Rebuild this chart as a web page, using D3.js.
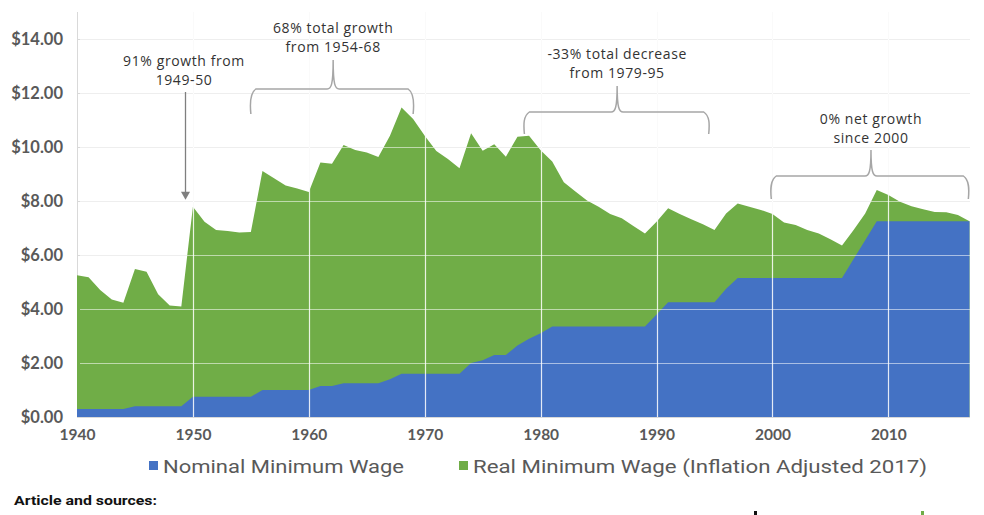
<!DOCTYPE html>
<html>
<head>
<meta charset="utf-8">
<script src="https://cdn.jsdelivr.net/npm/d3@7"></script>
<style>
  html, body { margin: 0; padding: 0; background: #fff; }
  svg { display: block; }
</style>
</head>
<body>
<svg id="chart" width="984" height="515"></svg>
<script>
// ---------------- DATA ----------------
const startYear = 1940;
const endYear = 2017;
const nominalWage = [
  0.30, 0.30, 0.30, 0.30, 0.30,            // 1940-44
  0.40, 0.40, 0.40, 0.40, 0.40,            // 1945-49
  0.75, 0.75, 0.75, 0.75, 0.75, 0.75,      // 1950-55
  1.00, 1.00, 1.00, 1.00, 1.00,            // 1956-60
  1.15, 1.15,                              // 1961-62
  1.25, 1.25, 1.25, 1.25,                  // 1963-66
  1.40,                                    // 1967
  1.60, 1.60, 1.60, 1.60, 1.60, 1.60,      // 1968-73
  2.00, 2.10, 2.30, 2.30, 2.65, 2.90, 3.10,// 1974-80
  3.35, 3.35, 3.35, 3.35, 3.35, 3.35, 3.35, 3.35, 3.35, // 1981-89
  3.80,                                    // 1990
  4.25, 4.25, 4.25, 4.25, 4.25,            // 1991-95
  4.75,                                    // 1996
  5.15, 5.15, 5.15, 5.15, 5.15, 5.15, 5.15, 5.15, 5.15, 5.15, // 1997-2006
  5.85, 6.55,                              // 2007-08
  7.25, 7.25, 7.25, 7.25, 7.25, 7.25, 7.25, 7.25, 7.25 // 2009-17
];
const realWage = [
  5.25, 5.18, 4.70, 4.35, 4.23, 5.48, 5.38, 4.55, 4.13, 4.09,   // 1940s
  7.79, 7.23, 6.93, 6.89, 6.83, 6.85, 9.11, 8.84, 8.57, 8.46,   // 1950s
  8.33, 9.43, 9.38, 10.07, 9.89, 9.80, 9.63, 10.42, 11.46, 11.04, // 1960s
  10.42, 9.85, 9.56, 9.21, 10.51, 9.86, 10.10, 9.64, 10.38, 10.42, // 1970s
  9.88, 9.46, 8.69, 8.35, 8.02, 7.79, 7.52, 7.36, 7.07, 6.80,   // 1980s
  7.23, 7.73, 7.52, 7.32, 7.14, 6.93, 7.54, 7.91, 7.79, 7.67,   // 1990s
  7.52, 7.20, 7.11, 6.93, 6.80, 6.58, 6.35, 6.93, 7.54, 8.41,   // 2000s
  8.22, 7.97, 7.81, 7.69, 7.59, 7.58, 7.48, 7.25                // 2010s
];
const xTicks = [1940, 1950, 1960, 1970, 1980, 1990, 2000, 2010];
const yTicks = [0, 2, 4, 6, 8, 10, 12, 14];
const seriesNames = ["Nominal Minimum Wage", "Real Minimum Wage (Inflation Adjusted 2017)"];
const annotations = [
  { lines: ["91% growth from", "1949-50"], type: "arrow", at: 1949.3, tipValue: 7.9 },
  { lines: ["68% total growth", "from 1954-68"], type: "brace", from: 1955.0, to: 1969.0, mid: 1962.1 },
  { lines: ["-33% total decrease", "from 1979-95"], type: "brace", from: 1978.6, to: 1994.5, mid: 1986.6 },
  { lines: ["0% net growth", "since 2000"], type: "brace", from: 1999.9, to: 2016.9, mid: 2008.5 }
];

// ---------------- LAYOUT ----------------
const svg = d3.select("#chart");
const plotLeft = 77, plotRight = 970, plotTop = 12, plotBottom = 417;
const colors = { nominal: "#4472c4", real: "#70ad47" };

const years = nominalWage.map((d, i) => startYear + i);
const x = d3.scaleLinear().domain([startYear, endYear]).range([plotLeft, plotRight - 0.5]);
const y = d3.scaleLinear().domain([0, 15]).range([plotBottom, plotTop]);

// background gridlines
const grid = svg.append("g");
grid.selectAll("line.h").data(yTicks).join("line")
  .attr("x1", plotLeft).attr("x2", plotRight)
  .attr("y1", d => y(d) + 0.5).attr("y2", d => y(d) + 0.5)
  .attr("stroke", "#d9d9d9").attr("stroke-width", 1);
grid.selectAll("line.v").data(xTicks).join("line")
  .attr("x1", d => Math.round(x(d)) + 0.5).attr("x2", d => Math.round(x(d)) + 0.5)
  .attr("y1", plotTop).attr("y2", plotBottom)
  .attr("stroke", "#d9d9d9").attr("stroke-width", 1);

// areas
const areaGen = d3.area().x((d, i) => x(years[i])).y0(y(0)).y1(d => y(d));
svg.append("path").datum(realWage).attr("d", areaGen).attr("fill", colors.real);
svg.append("path").datum(nominalWage).attr("d", areaGen).attr("fill", colors.nominal);

// gridlines visible through the areas (lighter)
const og = svg.append("g");
og.selectAll("line.h").data(yTicks.filter(d => d > 0)).join("line")
  .attr("x1", plotLeft + 3).attr("x2", plotRight)
  .attr("y1", d => y(d) + 0.5).attr("y2", d => y(d) + 0.5)
  .attr("stroke", "#ffffff").attr("stroke-opacity", 0.55).attr("stroke-width", 1.2);
og.selectAll("line.v").data(xTicks.filter(d => d > startYear)).join("line")
  .attr("x1", d => Math.round(x(d)) + 0.5).attr("x2", d => Math.round(x(d)) + 0.5)
  .attr("y1", plotTop).attr("y2", plotBottom)
  .attr("stroke", "#ffffff").attr("stroke-opacity", 0.85).attr("stroke-width", 1.2);
svg.append("line").attr("x1", plotLeft).attr("x2", plotRight)
  .attr("y1", plotBottom + 0.5).attr("y2", plotBottom + 0.5)
  .attr("stroke", "#d9d9d9");

// axes (text only)
const yAxis = d3.axisLeft(y).tickValues(yTicks).tickSize(0).tickPadding(14)
  .tickFormat(d => "$" + d3.format(".2f")(d));
const gy = svg.append("g").attr("transform", `translate(${plotLeft},0)`).call(yAxis);
gy.select(".domain").remove();
gy.selectAll("text").attr("font-family", "Lato, 'Open Sans', sans-serif")
  .attr("font-weight", 700).attr("font-size", 16.5).attr("fill", "#595959")
  .attr("dy", "0.35em");

const xAxis = d3.axisBottom(x).tickValues(xTicks).tickSize(0).tickPadding(12)
  .tickFormat(d3.format("d"));
const gx = svg.append("g").attr("transform", `translate(0,${plotBottom})`).call(xAxis);
gx.select(".domain").remove();
gx.selectAll("text").attr("font-family", "Lato, 'Open Sans', sans-serif")
  .attr("font-weight", 700).attr("font-size", 15.5).attr("fill", "#595959");

// legend
const legend = svg.append("g").attr("font-family", "Roboto, Lato, sans-serif")
  .attr("font-size", 19).attr("fill", "#595959");
const legendItems = [
  { name: seriesNames[0], color: colors.nominal, sx: 149, tx: 163, w: 241 },
  { name: seriesNames[1], color: colors.real, sx: 459, tx: 473, w: 454 }
];
legendItems.forEach(it => {
  legend.append("rect").attr("x", it.sx).attr("y", 461).attr("width", 9).attr("height", 9).attr("fill", it.color);
  legend.append("text").attr("x", it.tx).attr("y", 472.5).text(it.name)
    .attr("textLength", it.w).attr("lengthAdjust", "spacingAndGlyphs");
});

// footer
svg.append("text").attr("x", 14).attr("y", 505).text("Article and sources:")
  .attr("font-family", "Roboto, Lato, sans-serif").attr("font-weight", 700)
  .attr("font-size", 13.5).attr("fill", "#111")
  .attr("textLength", 143).attr("lengthAdjust", "spacingAndGlyphs");
svg.append("rect").attr("x", 754).attr("y", 511).attr("width", 3).attr("height", 4).attr("fill", "#111");
svg.append("rect").attr("x", 921).attr("y", 511).attr("width", 3).attr("height", 4).attr("fill", colors.real);

// annotations
const ann = svg.append("g");
const textStyle = sel => sel.attr("font-family", "'Open Sans', Lato, sans-serif")
  .attr("font-size", 14).attr("letter-spacing", 0.6).attr("fill", "#333333").attr("text-anchor", "middle");

function bracePath(x1, x2, xm, yH, yEnd, yTip) {
  const r = 5;
  return `M${x1},${yEnd} C${x1 - 1},${yEnd - 10} ${x1 - 1},${yH + 4} ${x1 + r},${yH}` +
    ` L${xm - 6},${yH} C${xm - 2},${yH} ${xm},${yH - 4} ${xm},${yTip}` +
    ` C${xm},${yH - 4} ${xm + 2},${yH} ${xm + 6},${yH}` +
    ` L${x2 - r},${yH} C${x2 + 1},${yH + 4} ${x2 + 1},${yEnd - 10} ${x2},${yEnd}`;
}

function twoLines(cx, y1, lines) {
  ann.append("text").call(textStyle).attr("x", cx).attr("y", y1).text(lines[0]);
  ann.append("text").call(textStyle).attr("x", cx).attr("y", y1 + 19).text(lines[1]);
}

const braceGeom = [
  null,
  { yH: 89, yEnd: 114, yTip: 60, ty: 33 },
  { yH: 112, yEnd: 134, yTip: 86, ty: 59 },
  { yH: 176, yEnd: 199, yTip: 150, ty: 124 }
];

annotations.forEach((a, i) => {
  if (a.type === "arrow") {
    const ax = Math.round(x(a.at)) + 0.5;
    twoLines(184, 66, a.lines);
    const tipY = y(a.tipValue) - 4;
    ann.append("line").attr("x1", ax).attr("x2", ax).attr("y1", 92).attr("y2", tipY - 6)
      .attr("stroke", "#7f7f7f").attr("stroke-width", 1.3);
    ann.append("path").attr("d", `M${ax - 4.5},${tipY - 8} L${ax + 4.5},${tipY - 8} L${ax},${tipY} Z`)
      .attr("fill", "#7f7f7f");
  } else {
    const g = braceGeom[i];
    const xm = x(a.mid);
    ann.append("path").attr("d", bracePath(x(a.from), x(a.to), xm, g.yH, g.yEnd, g.yTip))
      .attr("fill", "none").attr("stroke", "#a6a6a6").attr("stroke-width", 1.5);
    twoLines(xm, g.ty, a.lines);
  }
});
</script>
</body>
</html>
